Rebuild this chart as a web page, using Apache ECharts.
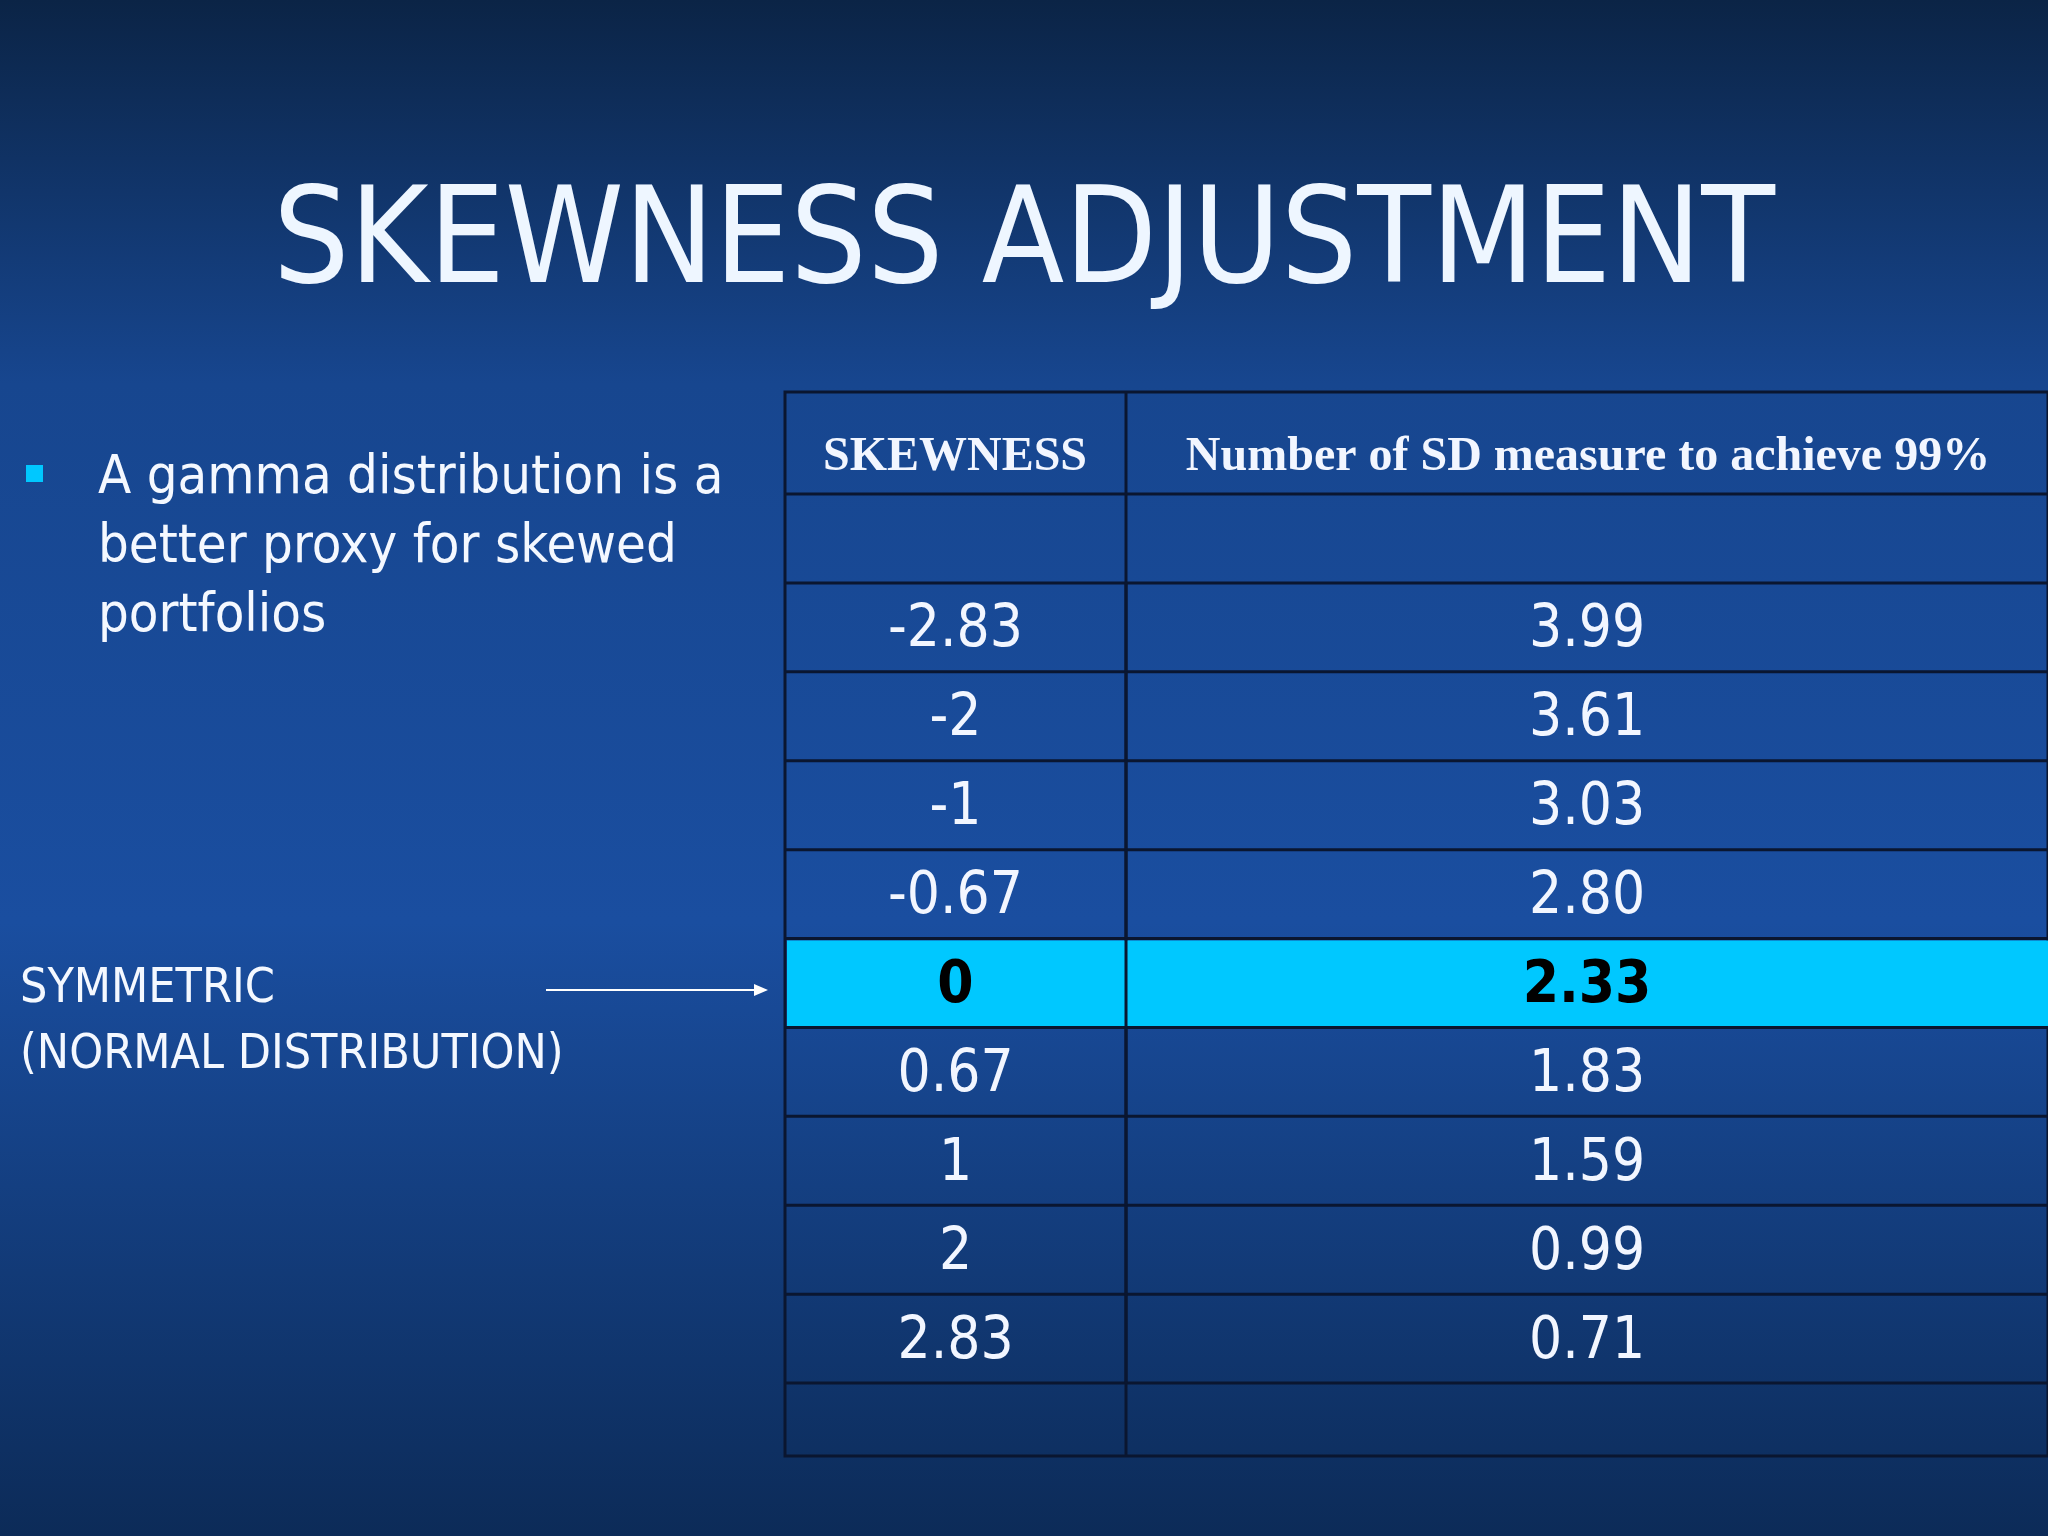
<!DOCTYPE html>
<html><head><meta charset="utf-8">
<script src="https://cdn.jsdelivr.net/npm/echarts@6/dist/echarts.min.js"></script>
<style>html,body{margin:0;padding:0}#c{width:2048px;height:1536px}</style>
</head><body><div id="c"></div>
<script>
const headers = ['SKEWNESS', 'Number of SD measure to achieve 99%'];
const skewness = ['-2.83','-2.00','-1.00','-0.67','0.00','0.67','1.00','2.00','2.83'];
const sdMeasure = ['3.99','3.61','3.03','2.80','2.33','1.83','1.59','0.99','0.71'];
const highlightRow = 4;
const DIV = 0.27;
const font = '"DejaVu Sans Condensed", "DejaVu Sans", sans-serif';
const line = '#0a1630';

const rows = skewness.map((s, i) => [i, s, sdMeasure[i]]);
const chart = echarts.init(document.getElementById('c'));
chart.setOption({
  backgroundColor: {type:'linear', x:0, y:0, x2:0, y2:1, colorStops:[
    {offset:0, color:'#0b2446'}, {offset:0.25, color:'#17468f'},
    {offset:0.6, color:'#1a4ea0'}, {offset:1, color:'#0c2b58'}]},
  grid: {left:785, right:0, top:494, bottom:80},
  xAxis: {type:'value', min:0, max:1, show:false},
  yAxis: {type:'value', min:0, max:10.82, inverse:true, show:false},
  graphic: [
    {type:'text', left:'center', top:180, style:{text:'SKEWNESS ADJUSTMENT', font:'134px '+font, fill:'#eef6ff', shadowColor:'#000', shadowOffsetX:5, shadowOffsetY:5, shadowBlur:0}},
    {type:'rect', shape:{x:785, y:392, width:1263, height:1064}, style:{fill:'none', stroke:line, lineWidth:3}},
    {type:'line', shape:{x1:785, y1:494, x2:2048, y2:494}, style:{stroke:line, lineWidth:3}},
    {type:'line', shape:{x1:1126, y1:392, x2:1126, y2:1456}, style:{stroke:line, lineWidth:3}},
    {type:'text', x:955, y:458, style:{text:headers[0], font:'bold 48px "Liberation Serif", serif', fill:'#f2f6ff', align:'center', verticalAlign:'middle'}},
    {type:'text', x:1588, y:458, style:{text:headers[1], font:'bold 48px "Liberation Serif", serif', fill:'#f2f6ff', align:'center', verticalAlign:'middle'}},
    {type:'rect', shape:{x:26, y:465, width:17, height:17}, style:{fill:'#00c8ff'}},
    {type:'text', x:98, y:444, style:{text:'A gamma distribution is a\nbetter proxy for skewed\nportfolios', font:'54px '+font, lineHeight:69, fill:'#f4f8ff', textShadowColor:'#000', textShadowOffsetX:2, textShadowOffsetY:2}},
    {type:'text', x:20, y:966, style:{text:'SYMMETRIC', font:'48px '+font, fill:'#f4f8ff'}},
    {type:'text', x:20, y:1032, style:{text:'(NORMAL DISTRIBUTION)', font:'48px '+font, fill:'#f4f8ff'}},
    {type:'line', shape:{x1:546, y1:990, x2:760, y2:990}, style:{stroke:'#fff', lineWidth:2}},
    {type:'polygon', shape:{points:[[768,990],[754,984],[754,996]]}, style:{fill:'#fff'}}
  ],
  series: [{
    type:'custom', data: rows, encode:{x:[], y:0},
    renderItem: function(params, api) {
      const i = api.value(0);
      const top = api.coord([0, i + 1]);
      const bot = api.coord([1, i + 2]);
      const mid = api.coord([DIV, i + 1.5]);
      const hl = i === highlightRow;
      const children = [];
      if (hl) children.push({type:'rect', shape:{x:top[0]+2, y:top[1]+2, width:bot[0]-top[0]-2, height:bot[1]-top[1]-3}, style:{fill:'#00c8ff'}});
      children.push({type:'line', shape:{x1:top[0], y1:bot[1], x2:bot[0], y2:bot[1]}, style:{stroke:line, lineWidth:3}});
      if (i === 0) children.push({type:'line', shape:{x1:top[0], y1:top[1], x2:bot[0], y2:top[1]}, style:{stroke:line, lineWidth:3}});
      children.push({type:'line', shape:{x1:mid[0], y1:top[1], x2:mid[0], y2:bot[1]}, style:{stroke:line, lineWidth:3}});
      const f = (hl ? 'bold ' : '') + '58px ' + font;
      const c = hl ? '#000' : '#f2f6ff';
      children.push({type:'text', x:(top[0]+mid[0])/2, y:mid[1]+4, style:{text:api.value(1), font:f, fill:c, align:'center', verticalAlign:'middle'}});
      children.push({type:'text', x:(mid[0]+bot[0])/2, y:mid[1]+4, style:{text:api.value(2), font:f, fill:c, align:'center', verticalAlign:'middle'}});
      return {type:'group', children};
    },
    dimensions:['i', {name:'s', type:'ordinal'}, {name:'v', type:'ordinal'}]
  }]
});
</script></body></html>
